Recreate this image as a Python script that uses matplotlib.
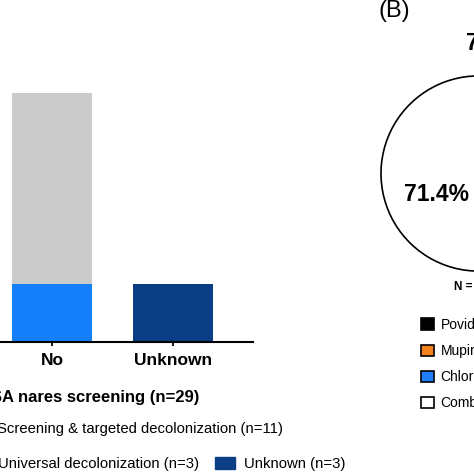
import matplotlib.pyplot as plt
from matplotlib.patches import Patch

plt.rcParams['font.family'] = ['Liberation Sans', 'DejaVu Sans']

# panel A: stacked bars (only "No" and "Unknown" are in view)
categories = ['No', 'Unknown']
bar_pos = [1, 2]
universal = [3, 0]
remaining = [10, 0]
unknown = [0, 3]

# panel B: pie of decolonization agents, N = 14
agents = ['Povidone-iodine', 'Mupirocin', 'Chlorhexidine', 'Combination']
agent_counts = [1, 1, 2, 10]
agent_colors = ['black', '#f5821f', '#1f7fff', 'white']

c_gray = '#cbcbcb'
c_blue = '#1580fa'
c_dark = '#0b3e85'

W = 474


def fx(px):
    return px / W


def fy(py):
    return 1 - py / W


fig = plt.figure(figsize=(4.74, 4.74), dpi=100)

# ---- bars
ax = fig.add_axes([fx(-148.5), fy(341.7), 401.5 / W, 18 * 19.13 / W])
ax.bar(bar_pos, universal, width=0.667, color=c_blue)
ax.bar(bar_pos, remaining, width=0.667, bottom=universal, color=c_gray)
ax.bar(bar_pos, unknown, width=0.667, color=c_dark)
ax.set_xlim(-0.664, 2.664)
ax.set_ylim(0, 18)
ax.set_xticks(bar_pos)
ax.set_xticklabels(categories, fontsize=12.5, fontweight='bold')
ax.set_yticks([])
for s in ['top', 'right', 'left']:
    ax.spines[s].set_visible(False)
ax.spines['bottom'].set_linewidth(1.5)
ax.tick_params(axis='x', length=3, width=1.3, pad=5.2)

fig.text(fx(199.3), fy(401.7), 'MRSA nares screening (n=29)', ha='right',
         va='baseline', fontsize=12, fontweight='bold')

leg_kw = dict(frameon=False, fontsize=10.7, borderpad=0, borderaxespad=0,
              handlelength=1.3, handleheight=0.83, handletextpad=0.6,
              columnspacing=1.1, bbox_transform=fig.transFigure)
fig.legend(handles=[Patch(color='#7f7f7f',
                          label='Screening & targeted decolonization (n=11)')],
           loc='center right', bbox_to_anchor=(fx(283), fy(429.5)), **leg_kw)
fig.legend(handles=[Patch(color=c_blue, label='Universal decolonization (n=3)'),
                    Patch(color=c_dark, label='Unknown (n=3)')],
           ncol=2, loc='center right', bbox_to_anchor=(fx(345), fy(464)), **leg_kw)

# ---- pie
r_px = 97.6
cx, cy = 478.6, 173.5
axp = fig.add_axes([fx(cx - r_px), fy(cy + r_px), 2 * r_px / W, 2 * r_px / W])
wedges, _, pct = axp.pie(agent_counts, colors=agent_colors, startangle=-24.8,
                         autopct=lambda p: f'{p:.1f}%' if p > 50 else '',
                         pctdistance=0.48,
                         wedgeprops=dict(edgecolor='black', linewidth=1.2))
for t in pct:
    t.set_fontsize(16.5)
    t.set_fontweight('bold')
axp.set_xlim(-1, 1)
axp.set_ylim(-1, 1)
axp.axis('off')

share = 100 * agent_counts[0] / sum(agent_counts)
axp.text(-0.129, 1.265, f'{share:.1f}%', ha='left', va='baseline',
         fontsize=16.5, fontweight='bold')
axp.text(-0.247, -1.19, f'N = {sum(agent_counts)}', ha='left', va='baseline',
         fontsize=8.5, fontweight='bold')

axp.legend(wedges, agents, loc='upper left', bbox_to_anchor=(fx(421), fy(318)),
           bbox_transform=fig.transFigure, frameon=False, fontsize=10,
           borderpad=0, borderaxespad=0, handlelength=0.9, handleheight=0.9,
           handletextpad=0.5, labelspacing=0.87)

fig.text(fx(378), fy(17.5), '(B)', ha='left', va='baseline', fontsize=17)

fig.savefig('out.png', dpi=100)
